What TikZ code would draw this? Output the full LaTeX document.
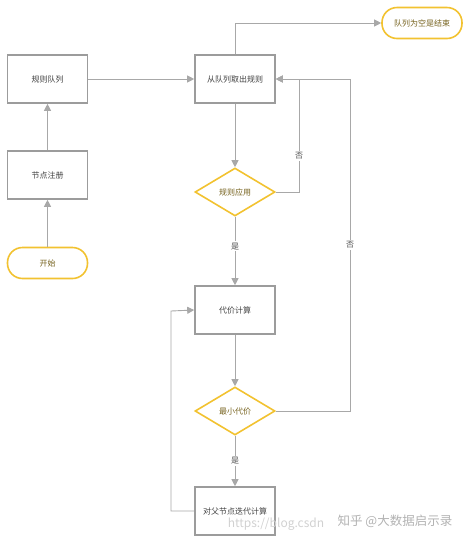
\documentclass[tikz,border=0pt]{standalone}
\usepackage{fontspec}
\setmainfont{Noto Sans CJK SC}
\usetikzlibrary{shapes.geometric,arrows.meta}
\definecolor{linegray}{HTML}{A8A8A8}
\definecolor{boxgray}{HTML}{9C9C9C}
\definecolor{flowyellow}{HTML}{F2C230}
\definecolor{yellowtext}{HTML}{76621E}
\newcommand{\boxwidth}{80pt}

\begin{document}
\begin{tikzpicture}[x=1pt,y=-1pt,
    font=\fontsize{8}{10}\selectfont,
    proc/.style={draw=boxgray, line width=1.6pt, minimum width=\boxwidth, minimum height=48pt, inner sep=0pt, text=black!75},
    term/.style={draw=flowyellow, line width=1.6pt, rounded corners=15pt, minimum width=\boxwidth, minimum height=31pt, inner sep=0pt, text=yellowtext},
    cond/.style={draw=flowyellow, line width=1.6pt, diamond, minimum width=\boxwidth, minimum height=48pt, inner sep=0pt, text=yellowtext},
    flow/.style={draw=linegray, line width=0.9pt, -{Triangle[length=7pt,width=7pt]}},
    lbl/.style={fill=white, inner sep=1.5pt, text=black!70}]

        \useasboundingbox (0,0) rectangle (467,539);

        \node (queue) at (47.5,79) [proc] {规则队列};
        \node (fetch) at (235,79) [proc] {从队列取出规则};
        \node (stop) at (422,23) [term] {队列为空是结束};
        \node (reg) at (47.5,175) [proc] {节点注册};
        \node (start) at (47.5,263) [term] {开始};
        \node (apply) at (235,192) [cond] {规则应用};
        \node (cost) at (235,310) [proc] {代价计算};
        \node (mincost) at (235,411) [cond] {最小代价};
        \node (iter) at (235,511) [proc] {对父节点迭代计算};

        \coordinate (no1) at (299,79);
        \coordinate (no2) at (350,79);
        \coordinate (back) at (171,311);

        \draw[flow] (start) -- (reg);
        \draw[flow] (reg) -- (queue);
        \draw[flow] (queue) -- (fetch);
        \draw[flow] (fetch.north) |- (stop);
        \draw[flow] (fetch) -- (apply);
        \draw[flow] (apply.east) -| node[lbl, pos=.66] {否} (no1) -- (fetch.east);
        \draw[flow] (apply) -- node[lbl, pos=.43] {是} (cost);
        \draw[flow] (cost) -- (mincost);
        \draw[flow] (mincost.east) -| node[lbl, pos=.75] {否} (no2) -- (fetch.east);
        \draw[flow] (mincost) -- node[lbl] {是} (iter);
        \draw[flow] (iter.west) -| (back) -- (cost.west);

        % watermark
        \node (csdn) at (276,524) [text=black!18, font=\fontsize{12}{14}\selectfont] {https://blog.csdn};
        \node (zhihu) at (395,521) [text=black!30, font=\fontsize{12.5}{14}\selectfont] {知乎 @大数据启示录};
\end{tikzpicture}
\end{document}
